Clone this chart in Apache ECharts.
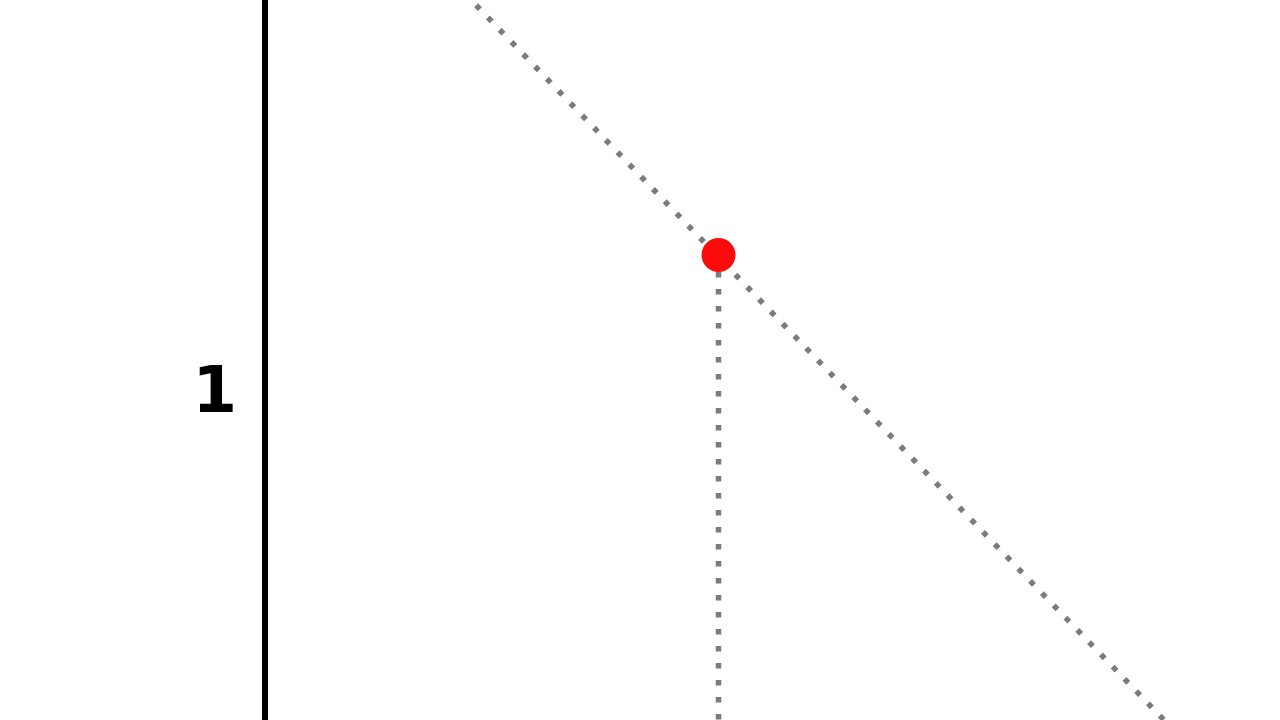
<!DOCTYPE html>
<html>
<head>
<meta charset="utf-8">
<style>
  html, body { margin: 0; padding: 0; background: #fff; }
  #chart { width: 1280px; height: 720px; }
</style>
<script src="https://cdn.jsdelivr.net/npm/echarts@6/dist/echarts.min.js"></script>
</head>
<body>
<div id="chart"></div>
<script>
// 数据
const lineX = [0.21, 2.0];
const lineY = [2.0, 0.14];
const pointX = [0.907];
const pointY = [1.28];
const dropBottom = 0;

const chart = echarts.init(document.getElementById('chart'));

// 斜线和竖线
const linePts = lineX.map((x, i) => [x, lineY[i]]);
const dropPts = [[pointX[0], pointY[0]], [pointX[0], dropBottom]];

const dotted = { color: '#7b7b7b', width: 5.5, type: [5.5, 11.5] };

chart.setOption({
    animation: false,
    grid: { left: 265, top: -105, width: 1000, height: 1000, outerBoundsMode: 'none', containLabel: false },
    xAxis: {
        type: 'value', min: 0, max: 2, show: false
    },
    yAxis: {
        type: 'value', min: 0, max: 2, interval: 1,
        axisLine: { show: true, lineStyle: { color: '#000', width: 6 } },
        axisTick: { show: false },
        splitLine: { show: false },
        axisLabel: {
            margin: 28,
            fontSize: 64,
            fontWeight: 'bold',
            fontFamily: 'DejaVu Sans',
            color: '#000',
            formatter: v => v === 1 ? '1' : ''
        }
    },
    series: [
        {
            type: 'line', data: linePts, showSymbol: false,
            lineStyle: dotted, z: 2
        },
        {
            type: 'line', data: dropPts, showSymbol: false,
            lineStyle: dotted, z: 2
        },
        {
            type: 'scatter', data: pointX.map((x, i) => [x, pointY[i]]),
            symbolSize: 34,
            itemStyle: { color: '#fd0a0a', opacity: 1 },
            z: 5
        }
    ]
});
</script>
</body>
</html>
